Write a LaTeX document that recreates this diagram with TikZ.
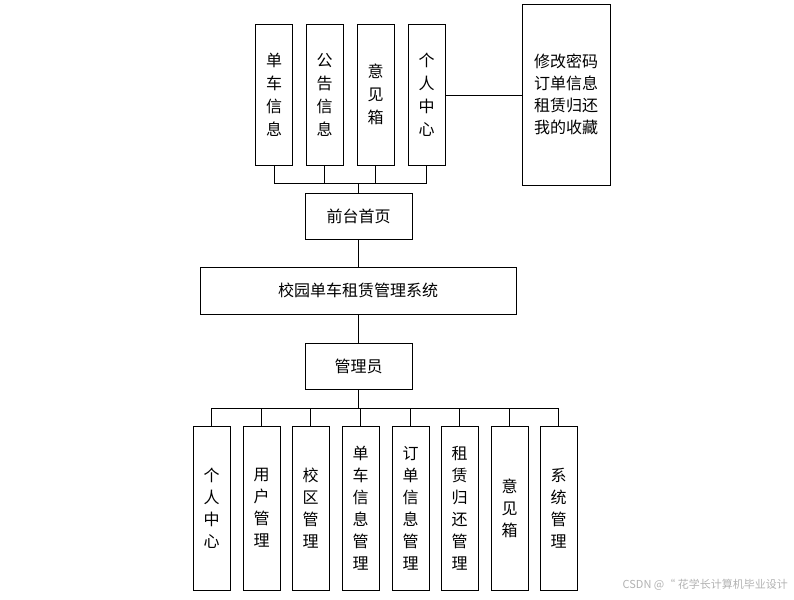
\documentclass[tikz,border=0pt]{standalone}
\usepackage{fontspec}
\newfontfamily\cjk{Noto Sans CJK SC}
\begin{document}
\begin{tikzpicture}[x=1pt,y=-1pt,
  bx/.style={draw,line width=0.8pt,inner sep=0pt,font=\cjk\fontsize{16}{23}\selectfont,align=center},
  ln/.style={line width=0.8pt}]
\useasboundingbox (0,0) rectangle (794,599);
\def\vb#1#2#3#4#5#6{\node[bx,minimum width=#3pt,minimum height=#4pt] (#1) at (#2,#5) {#6};}
% top
\vb{t1}{274}{37}{141}{94.5}{单\\车\\信\\息}
\vb{t2}{324.5}{37}{141}{94.5}{公\\告\\信\\息}
\vb{t3}{375.5}{37}{141}{94.5}{意\\见\\箱}
\vb{t4}{426.5}{37}{141}{94.5}{个\\人\\中\\心}
\node[bx,minimum width=88pt,minimum height=181pt,font=\cjk\fontsize{16}{22}\selectfont] (r) at (566,94.5) {修改密码\\订单信息\\租赁归还\\我的收藏};
\draw[ln] (t4.east |- 0,95) -- (r.west |- 0,95);
\node[bx,minimum width=107pt,minimum height=46pt] (q) at (358.5,216) {前台首页};
\node[bx,minimum width=316pt,minimum height=47pt] (s) at (358,290.5) {校园单车租赁管理系统};
\node[bx,minimum width=107pt,minimum height=46pt] (g) at (358.5,366) {管理员};
\coordinate (bt) at (0,183);
\draw[ln] (t1.south) -- (t1.south |- bt) -- (t4.south |- bt) -- (t4.south);
\draw[ln] (t2.south) -- (t2.south |- bt);
\draw[ln] (t3.south) -- (t3.south |- bt);
\draw[ln] (q.north |- bt) -- (q.north);
\draw[ln] (q.south) -- (q.south |- s.north);
\draw[ln] (s.south -| g.north) -- (g.north);
% bottom
\foreach \n/\x/\t in {b1/211.5/{个\\人\\中\\心},b2/261.5/{用\\户\\管\\理},b3/310.5/{校\\区\\管\\理},b4/360.5/{单\\车\\信\\息\\管\\理},b5/410.5/{订\\单\\信\\息\\管\\理},b6/459.5/{租\\赁\\归\\还\\管\\理},b7/509.5/{意\\见\\箱},b8/558.5/{系\\统\\管\\理}}{
  \node[bx,minimum width=37pt,minimum height=164pt,font=\cjk\fontsize{16}{22}\selectfont] (\n) at (\x,508) {\t};
}
\coordinate (bb) at (0,408);
\draw[ln] (g.south) -- (g.south |- bb);
\draw[ln] (b1.north) -- (b1.north |- bb) -- (b8.north |- bb) -- (b8.north);
\foreach \n in {b2,b3,b4,b5,b6,b7}{\draw[ln] (\n.north) -- (\n.north |- bb);}
\node[font=\cjk\fontsize{11}{11}\selectfont,text=gray!60,anchor=east,inner sep=0pt] (wm) at (788,585) {CSDN @“ 花学长计算机毕业设计};
\end{tikzpicture}
\end{document}
